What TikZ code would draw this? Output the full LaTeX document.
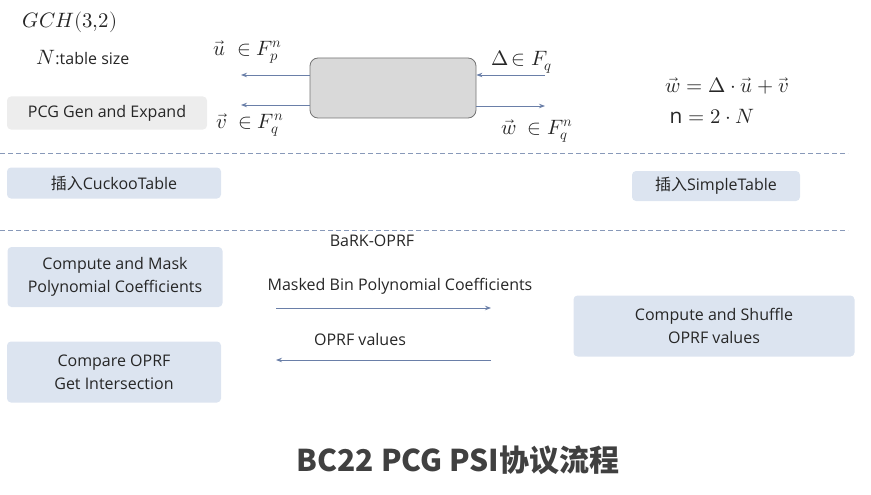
\documentclass[tikz,border=0pt]{standalone}
\usepackage{graphicx}
\usepackage{fontspec}
\usepackage{unicode-math}
\setmathfont{Latin Modern Math}
\setmainfont{Open Sans}
\newfontfamily\cjk{Noto Sans CJK SC}
\usetikzlibrary{arrows.meta}
\definecolor{bluebox}{HTML}{DCE4F0}
\definecolor{arr}{HTML}{6A7FA8}
\begin{document}
\begin{tikzpicture}[x=1pt,y=-1pt,
  bbox/.style={fill=bluebox,rounded corners=4pt,align=center,font=\fontsize{16}{23}\selectfont,text=black!85},
  gbox/.style={fill=black!7,rounded corners=4pt,align=center,font=\fontsize{16}{23}\selectfont,text=black!85},
  lab/.style={font=\fontsize{16}{19}\selectfont,text=black!85},
  ar/.style={draw=arr,-{Stealth[length=6pt]},line width=0.9pt},
  dl/.style={draw=arr!80,line width=1pt,dash pattern=on 5pt off 3pt}]
\useasboundingbox (0,0) rectangle (871,495);
\node[lab] (gch) at (70,22) {\scalebox{1.3}{$GCH(3{,}2)$}};
\node[lab] (ts) at (83,58) {\scalebox{1.3}{$N$}:table size};
\node[gbox,minimum width=200pt,minimum height=33pt] (pcg) at (107,113) {PCG Gen and Expand};
\node[draw=black!55,fill=black!15,rounded corners=8pt,minimum width=166pt,minimum height=60pt,line width=0.8pt] (core) at (393,88) {};
\coordinate (l1) at (241,75); \coordinate (l2) at (241,105);
\coordinate (r1) at (545,75); \coordinate (r2) at (545,106);
\draw[ar] (core.west|-l1) -- (l1);
\draw[ar] (core.west|-l2) -- (l2);
\draw[ar] (r1) -- (core.east|-r1);
\draw[ar] (core.east|-r2) -- (r2);
\node[lab] (u) at (248,52) {\scalebox{1.3}{$\vec u\;\in F_p^n$}};
\node[lab] (v) at (250,125) {\scalebox{1.3}{$\vec v\;\in F_q^n$}};
\node[lab] (d) at (522,62) {\scalebox{1.3}{$\Delta\!\in F_q$}};
\node[lab] (w) at (537,131) {\scalebox{1.3}{$\vec w\;\in F_q^n$}};
\node[lab] (eq1) at (727,86) {\scalebox{1.3}{$\vec w=\Delta\cdot\vec u+\vec v$}};
\node[lab] (eq2) at (712,116) {\scalebox{1.3}{$\mathrm{n}=2\cdot N$}};
\coordinate (a1) at (0,153); \coordinate (a2) at (848,153);
\draw[dl] (a1) -- (a2);
\node[bbox,minimum width=214pt,minimum height=31pt] (ck) at (114,183) {{\cjk 插入}CuckooTable};
\node[bbox,minimum width=168pt,minimum height=30pt] (st) at (716,186) {{\cjk 插入}SimpleTable};
\coordinate (b1) at (0,230); \coordinate (b2) at (848,230);
\draw[dl] (b1) -- (b2);
\node[lab] (bark) at (372,241) {BaRK-OPRF};
\node[bbox,minimum width=215pt,minimum height=60pt] (cm) at (115,277) {Compute and Mask\\Polynomial Coefficients};
\node[lab] (mb) at (400,286) {Masked Bin Polynomial Coefficients};
\coordinate (m1) at (276,308); \coordinate (m2) at (491,308);
\draw[ar] (m1) -- (m2);
\node[lab] (ov) at (360,339) {OPRF values};
\coordinate (o1) at (491,360); \coordinate (o2) at (276,360);
\draw[ar] (o1) -- (o2);
\node[bbox,minimum width=281pt,minimum height=61pt] (cs) at (714,326) {Compute and Shuffle\\OPRF values};
\node[bbox,minimum width=214pt,minimum height=61pt] (co) at (114,372) {Compare OPRF\\Get Intersection};
\node[font=\cjk\bfseries\fontsize{30}{34}\selectfont,text=black!75] (title) at (458,460) {BC22 PCG PSI协议流程};
\end{tikzpicture}
\end{document}
